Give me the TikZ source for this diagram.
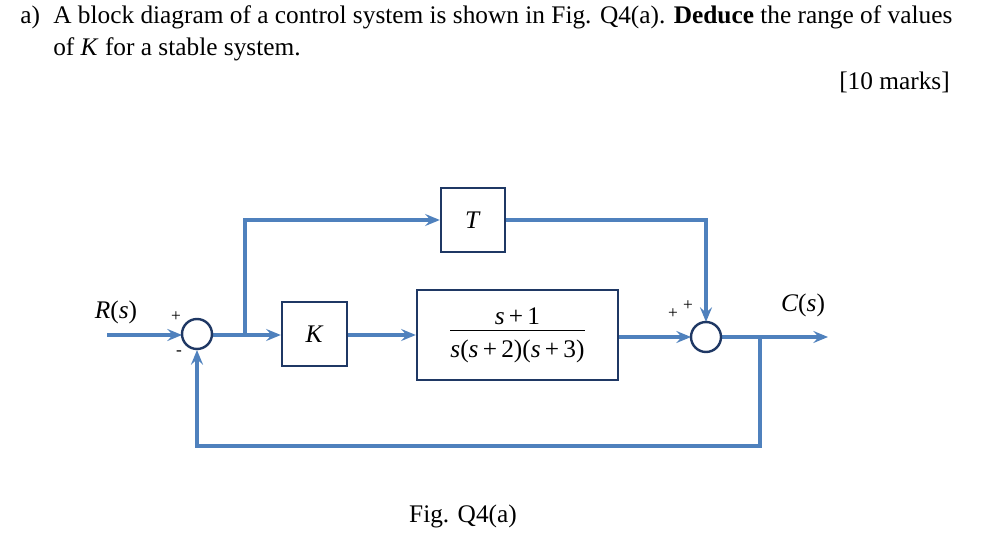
\documentclass[tikz,border=0pt]{standalone}
\usepackage{fontspec}
\setmainfont{Liberation Serif}
\usetikzlibrary{arrows.meta}
\definecolor{wire}{RGB}{79,129,189}
\definecolor{edge}{RGB}{31,56,100}
\newcommand{\vs}{\textit{s}}
\begin{document}
\begin{tikzpicture}[x=0.75pt,y=-0.75pt,
  wireline/.style={draw=wire,line width=2.6pt},
  arr/.style={wireline,-{Stealth[length=11pt,width=9pt,inset=4pt]}},
  blk/.style={draw=edge,line width=1.8pt,fill=white,inner sep=0pt},
  sumj/.style={circle,draw=edge,line width=1.8pt,fill=white,minimum size=22.5pt,inner sep=0pt},
  txt/.style={font=\fontsize{19}{22}\selectfont,inner sep=0pt},
  sgn/.style={font=\fontsize{13}{15}\selectfont,inner sep=0pt}]
\useasboundingbox (0,0) rectangle (987,541);
\node[txt,anchor=base west] (qa) at (20,24) {a)};
\node[txt,anchor=base west] (q1) at (53,24) {A block diagram of a control system is shown in Fig. Q4(a). \textbf{Deduce} the range of values};
\node[txt,anchor=base west] (q2) at (53,56) {of \textit{K} for a stable system.};
\node[txt,anchor=base east] (mk) at (950,90) {[10 marks]};
\node[txt,anchor=base] (fig) at (463,522) {Fig. Q4(a)};

\coordinate (in) at (107,335);
\coordinate (out) at (828,337);
\coordinate (br) at (245,335);
\coordinate (fb) at (760,337);
\coordinate (fbl) at (760,446);
\coordinate (fbr) at (197,446);
\node[blk,minimum width=48.75pt,minimum height=48pt,txt] (K) at (314.5,334) {\textit{K}};
\node[blk,minimum width=150.75pt,minimum height=67.5pt,txt] (G) at (517.5,335)
  {\begin{tabular}{@{}c@{}}\vs\,+\,1\\[-2pt]\hline\rule{0pt}{20pt}\vs(\vs\,+\,2)(\vs\,+\,3)\end{tabular}};
\node[blk,minimum width=48pt,minimum height=48pt,txt] (T) at (473,220) {\textit{T}};

\draw[arr] (br) -- (K.west |- br);
\draw[arr] (br) |- (T.west);
\draw[arr] (T.east) -| (706,322);
\draw[arr] (K.east |- br) -- (G.west |- br);
\draw[arr] (G.east |- fb) -- (691,337);
\draw[arr] (706,337) -- (out);
\draw[arr] (fb) -- (fbl) -- (fbr) -- (197,350);
\draw[arr] (in) -- (182,335);
\draw[wireline] (197,335) -- (br);
\node[sumj] (s1) at (197,334) {};
\node[sumj] (s2) at (706,337) {};

\node[txt] (R) at (116,312) {\textit{R}(\vs)};
\node[txt] (C) at (803,305) {\textit{C}(\vs)};
\node[sgn] (p1) at (176,317) {+};
\node[sgn] (m1) at (179,353) {-};
\node[sgn] (p2) at (673,314) {+};
\node[sgn] (p3) at (688,306) {+};
\end{tikzpicture}
\end{document}
